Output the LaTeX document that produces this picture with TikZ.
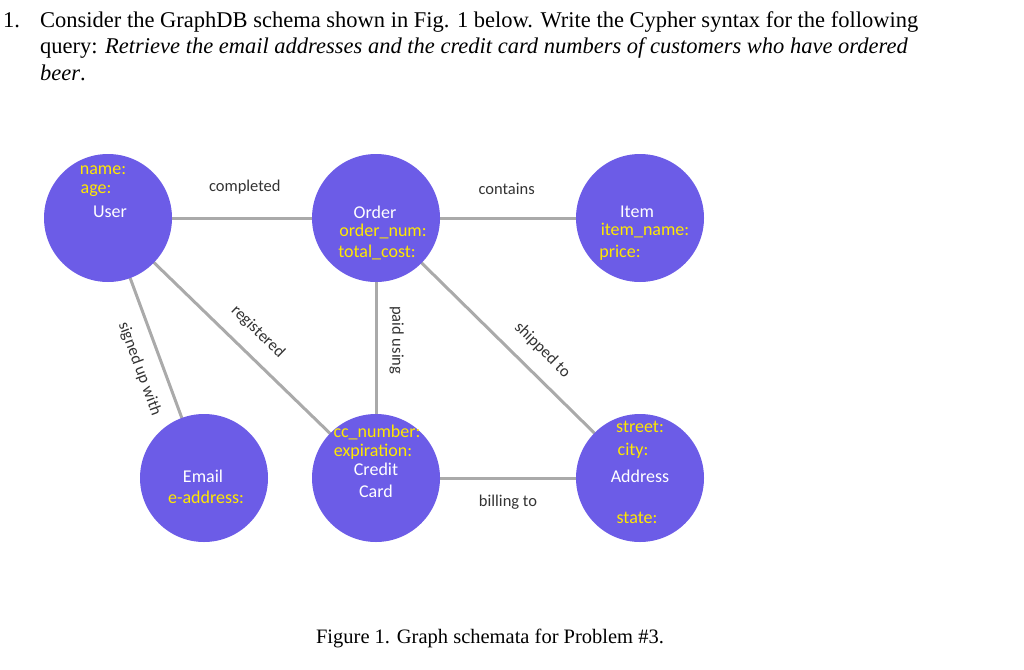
\documentclass[tikz,border=0pt]{standalone}
\usepackage{fontspec}
\setmainfont{Liberation Serif}
\newfontfamily\diag{Carlito}
\usetikzlibrary{backgrounds}
\definecolor{nodefill}{RGB}{108,92,231}
\definecolor{attr}{RGB}{255,232,0}
\definecolor{edgegray}{RGB}{170,170,170}
\definecolor{lbl}{RGB}{51,51,51}
\begin{document}
\begin{tikzpicture}[x=1pt,y=-1pt,
  ent/.style={circle,fill=nodefill,minimum size=128pt,inner sep=0pt},
  nm/.style={text=white,font=\diag\fontsize{18}{18}\selectfont,inner sep=0pt},
  attrtxt/.style={text=attr,font=\diag\fontsize{18}{18}\selectfont,inner sep=0pt},
  rel/.style={draw=edgegray,line width=3pt},
  el/.style={text=lbl,font=\diag\fontsize{16.5}{16.5}\selectfont,inner sep=0pt},
  ttl/.style={anchor=base west,inner sep=0pt,font=\fontsize{22.5}{22.5}\selectfont}]
\useasboundingbox (0,0) rectangle (1024,669);
% title
\node[ttl] (n1) at (3,28) {1.};
\node[ttl] (t1) at (40,28) {Consider the GraphDB schema shown in Fig. 1 below. Write the Cypher syntax for the following};
\node[ttl] (t2) at (40,54) {query: \textit{Retrieve the email addresses and the credit card numbers of customers who have ordered}};
\node[ttl] (t3) at (40,80) {\textit{beer}.};
% entities
\node[ent] (user) at (108,218) {};
\node[ent] (order) at (376,218) {};
\node[ent] (item) at (640,218) {};
\node[ent] (email) at (204,478) {};
\node[ent] (cc) at (376,478) {};
\node[ent] (addr) at (640,478) {};
% edges
\begin{scope}[on background layer]
\draw[rel] (user) -- node[el,pos=0.52,above=22pt] (l1) {completed} (order);
\draw[rel] (order) -- node[el,pos=0.49,above=22pt] (l2) {contains} (item);
\draw[rel] (user.center) -- node[el,pos=0.55,sloped,below=14pt] (l3) {signed up with} (email.center);
\draw[rel] (user.center) -- node[el,pos=0.5,sloped,above=14pt] (l4) {registered} (cc.center);
\draw[rel] (order.center) -- node[el,pos=0.47,sloped,above=12pt] (l5) {paid using} (cc.center);
\draw[rel] (order.center) -- node[el,pos=0.57,sloped,above=14pt] (l6) {shipped to} (addr.center);
\draw[rel] (cc) -- node[el,pos=0.5,below=16pt] (l7) {billing to} (addr);
\end{scope}
% texts in nodes
\node[attrtxt] (u1) at (103,170) {name:};
\node[attrtxt] (u2) at (96,191) {age:};
\node[nm] (u3) at (110,212) {User};
\node[nm] (o1) at (375,212) {Order};
\node[attrtxt] (o2) at (383,231) {order\_num:};
\node[attrtxt] (o3) at (377,252) {total\_cost:};
\node[nm] (i1) at (637,212) {Item};
\node[attrtxt] (i2) at (645,231) {item\_name:};
\node[attrtxt] (i3) at (620,253) {price:};
\node[nm] (e1) at (203,476) {Email};
\node[attrtxt] (e2) at (206,497) {e-address:};
\node[attrtxt] (c1) at (377,432) {cc\_number:};
\node[attrtxt] (c2) at (373,452) {expiration:};
\node[nm] (c3) at (376,469) {Credit};
\node[nm] (c4) at (376,491) {Card};
\node[attrtxt] (a1) at (640,427) {street:};
\node[attrtxt] (a2) at (633,451) {city:};
\node[nm] (a3) at (640,476) {Address};
\node[attrtxt] (a4) at (637,518) {state:};
% caption
\node[anchor=base,inner sep=0pt,font=\fontsize{20.5}{20.5}\selectfont] (cap) at (490,643) {Figure 1. Graph schemata for Problem \#3.};
\end{tikzpicture}
\end{document}
